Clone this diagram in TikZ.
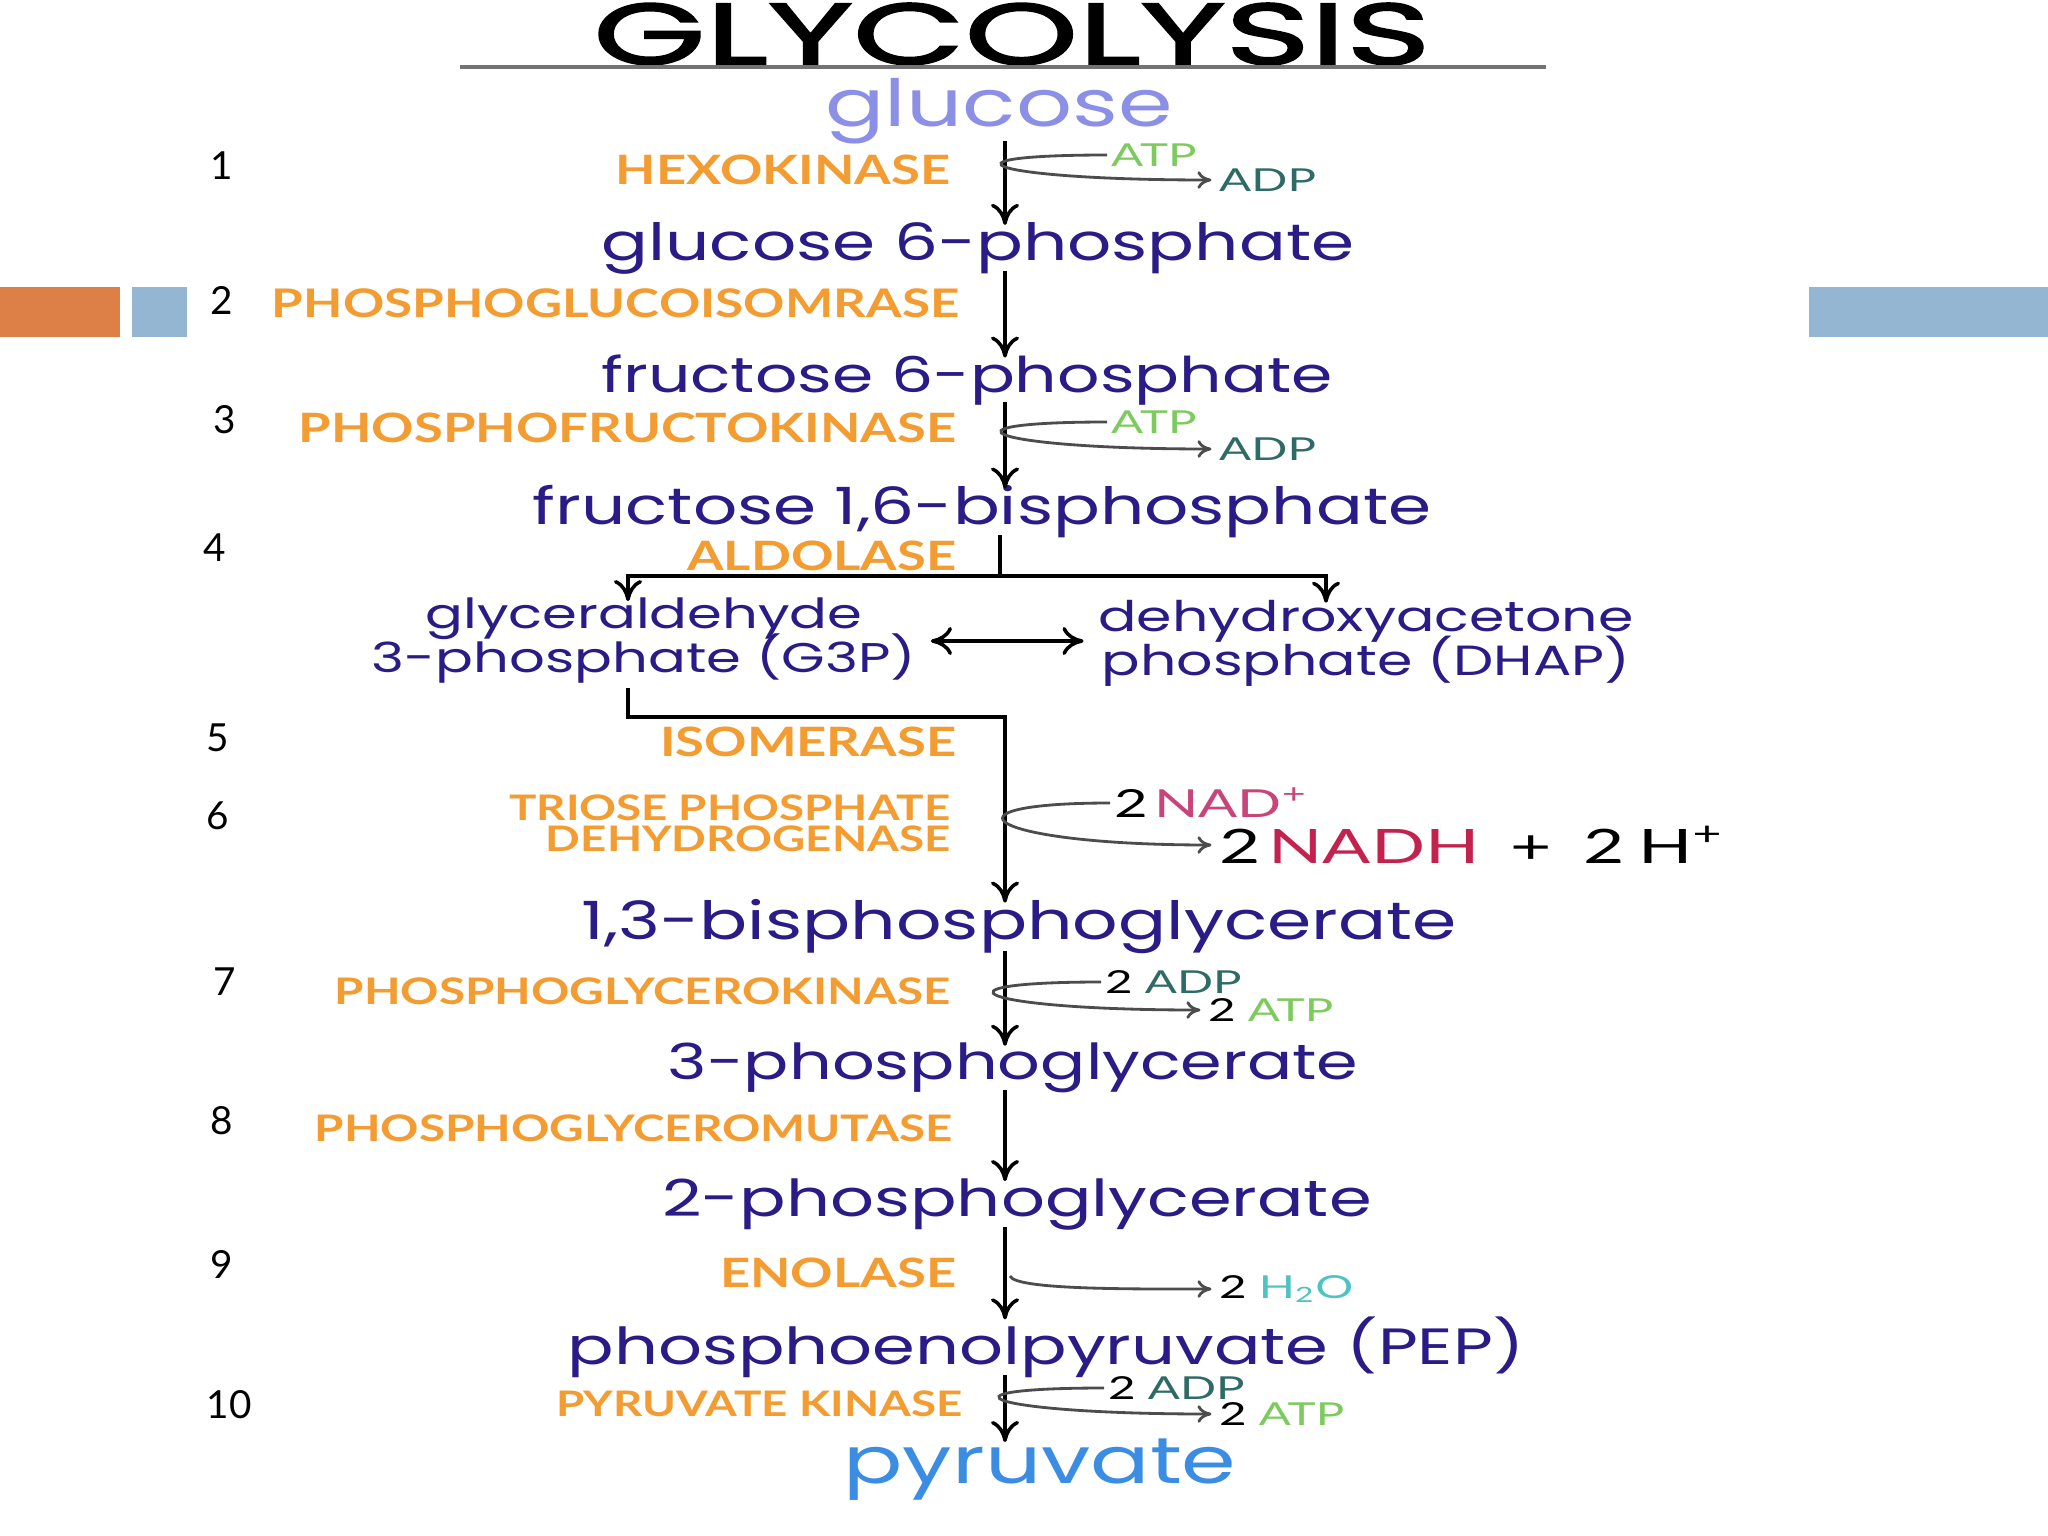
\documentclass[tikz,border=0pt]{standalone}
\usepackage{fontspec}
\usetikzlibrary{arrows.meta}

\newfontfamily\titlefont[FakeStretch=1.68, FakeBold=2.5]{Poppins}
\newfontfamily\handfont[FakeStretch=1.35]{Poppins}
\newfontfamily\enzfont[FakeStretch=1.3]{Lato}
\newfontfamily\numfont{Lato}
\newfontfamily\cofont[FakeStretch=1.5]{Lato}
\newcommand\tightlines{\lineskiplimit=-20pt\relax}

\definecolor{navy}{HTML}{2A1B86}
\definecolor{glccol}{HTML}{8C8FE6}
\definecolor{pyrcol}{HTML}{3B8DE3}
\definecolor{enzorange}{HTML}{F39C32}
\definecolor{atpgreen}{HTML}{7DCB5E}
\definecolor{adpteal}{HTML}{2F6B66}
\definecolor{nadpink}{HTML}{C8457A}
\definecolor{nadhred}{HTML}{C3224F}
\definecolor{h2oteal}{HTML}{4FC3C0}
\definecolor{decoorange}{HTML}{DD8047}
\definecolor{decoblue}{HTML}{94B6D2}

\begin{document}
\begin{tikzpicture}[x=0.01cm, y=-0.01cm, shorten >=1pt,
    sub/.style={text=navy, font=\handfont\fontsize{15}{17}\selectfont, inner sep=1pt, align=center},
    enz/.style={text=enzorange, font=\enzfont\bfseries\fontsize{11.5}{12}\selectfont, anchor=east, inner sep=0pt, align=right},
    num/.style={font=\numfont\fontsize{11}{12}\selectfont},
    lab/.style={font=\cofont\fontsize{9}{10}\selectfont, anchor=west, inner sep=1pt},
    flow/.style={-{To[length=6pt,width=8pt]}, line width=1pt, shorten <=-2pt, shorten >=-2pt},
    cof/.style={-{To[length=4pt,width=5pt]}, line width=0.8pt, draw=black!70}]

   \useasboundingbox (0,0) rectangle (2048,1536);
   \fill[white] (0,0) rectangle (2048,1536);

   % slide decoration
   \fill[decoorange] (0,287) rectangle (120,337);
   \fill[decoblue] (132,287) rectangle (187,337);
   \fill[decoblue] (1809,287) rectangle (2048,337);

   \node[font=\titlefont\fontsize{24.5}{25}\selectfont, inner sep=0pt] (title) at (1012,34) {GLYCOLYSIS};
   \draw[black!55, line width=1pt] (460,67) -- (1549,67);

   \coordinate (spine) at (1005,0);
   \coordinate (gapin) at (628,0);
   \coordinate (dhapin) at (1326,0);

   % metabolites
   \node[sub, text=glccol, font=\handfont\fontsize{18.5}{20}\selectfont] (vglc) at (999,111) {glucose};
   \foreach \n/\x/\y/\s/\t in {g6p/978/248/14.6/{glucose 6-phosphate}, f6p/967/380/14/{fructose 6-phosphate},
       fbp/982/512/14.6/{fructose 1,6-bisphosphate}, bpg/1019/927/15/{1,3-bisphosphoglycerate},
       pga3/1013/1068/14.1/{3-phosphoglycerate}, pga2/1017/1204/14.5/{2-phosphoglycerate},
       pep/1046/1347/14.5/{phosphoenolpyruvate (PEP)}}
     \node[sub, font=\handfont\fontsize{\s}{17}\selectfont] (v\n) at (\x,\y) {\t};
   \node[sub, font=\handfont\fontsize{11.8}{12.5}\selectfont\tightlines] (vgap) at (644,641) {glyceraldehyde\\3-phosphate (G3P)};
   \node[sub, font=\handfont\fontsize{12}{12.5}\selectfont\tightlines] (vdhap) at (1366,643) {dehydroxyacetone\\phosphate (DHAP)};
   \node[sub, text=pyrcol, font=\handfont\fontsize{18.5}{20}\selectfont] (vpyr) at (1040,1470) {pyruvate};

   % enzymes
   \foreach \n/\x/\y/\t in {hk/951/170/HEXOKINASE, pfk/957/428/PHOSPHOFRUCTOKINASE,
       ald/957/556/ALDOLASE, tpi/957/742/ISOMERASE, eno/957/1273/ENOLASE}
     \node[enz] (e\n) at (\x,\y) {\t};
   \node[enz, font=\enzfont\bfseries\fontsize{11.2}{12}\selectfont] (epgi) at (960,303) {PHOSPHOGLUCOISOMRASE};
   \node[enz, font=\enzfont\bfseries\fontsize{10.4}{12}\selectfont] (epgk) at (951,991) {PHOSPHOGLYCEROKINASE};
   \node[enz, font=\enzfont\bfseries\fontsize{10.4}{12}\selectfont] (epgm) at (953,1128) {PHOSPHOGLYCEROMUTASE};
   \node[enz, font=\enzfont\bfseries\fontsize{10}{8.8}\selectfont] (egapdh) at (951,823) {TRIOSE PHOSPHATE\\DEHYDROGENASE};
   \node[enz, font=\enzfont\bfseries\fontsize{10}{11}\selectfont] (epk) at (963,1404) {PYRUVATE KINASE};

   % step numbers
   \foreach \t/\x/\y in {1/222/166, 2/222/300, 3/225/420, 4/215/548, 5/218/738,
       6/218/816, 7/225/982, 8/222/1121, 9/222/1264, 10/229/1405}
     \node[num] (n\t) at (\x,\y) {\t};

   % main pathway
   \foreach \i/\j in {glc/g6p, g6p/f6p, f6p/fbp, bpg/pga3, pga3/pga2, pga2/pep, pep/pyr}
     \draw[flow] (v\i.south -| spine) -- (v\j.north -| spine);

   \coordinate (split) at (1000,576);
   \draw[line width=1pt, shorten >=0pt, shorten <=-2pt] (vfbp.south -| split) -- (split);
   \draw[flow, shorten <=0pt] (split) -| (vgap.north -| gapin);
   \draw[flow, shorten <=0pt] (split) -| (vdhap.north -| dhapin);
   \draw[{To[length=6pt,width=8pt]}-{To[length=6pt,width=8pt]}, line width=1pt, shorten <=3pt, shorten >=3pt]
     (vgap.east) -- (vgap.east -| vdhap.west);

   \coordinate (bend) at (1005,717);
   \draw[flow, shorten <=0pt] (vgap.south -| gapin) |- (bend) -- (vbpg.north -| spine);

   % cofactors
   \node[lab, text=atpgreen] (atp1) at (1107,155) {ATP};
   \node[lab, text=adpteal] (adp1) at (1215,180) {ADP};
   \node[lab, text=atpgreen] (atp3) at (1107,422) {ATP};
   \node[lab, text=adpteal] (adp3) at (1215,449) {ADP};
   \node[lab, font=\cofont\fontsize{11}{12}\selectfont] (nad) at (1110,803) {2\,\textcolor{nadpink}{NAD\textsuperscript{+}}};
   \node[lab, font=\cofont\fontsize{13.5}{14}\selectfont] (nadh) at (1215,845) {2\,\textcolor{nadhred}{NADH} \;+\; 2\;H\textsuperscript{+}};
   \node[lab] (adp7) at (1101,982) {2 \textcolor{adpteal}{ADP}};
   \node[lab] (atp7) at (1204,1010) {2 \textcolor{atpgreen}{ATP}};
   \node[lab] (h2o) at (1215,1289) {2 \textcolor{h2oteal}{H\textsubscript{2}O}};
   \node[lab] (adp10) at (1104,1388) {2 \textcolor{adpteal}{ADP}};
   \node[lab] (atp10) at (1215,1414) {2 \textcolor{atpgreen}{ATP}};

   \foreach \i/\j in {atp1/adp1, atp3/adp3, nad/nadh, adp7/atp7, adp10/atp10}
     \draw[cof] (\i.west) .. controls +(-180,0) and +(-230,0) .. (\j.west);
   \coordinate (enoout) at (1010,1276);
   \draw[cof] (enoout) .. controls +(5,14) and +(-80,0) .. (h2o.west);

\end{tikzpicture}
\end{document}
